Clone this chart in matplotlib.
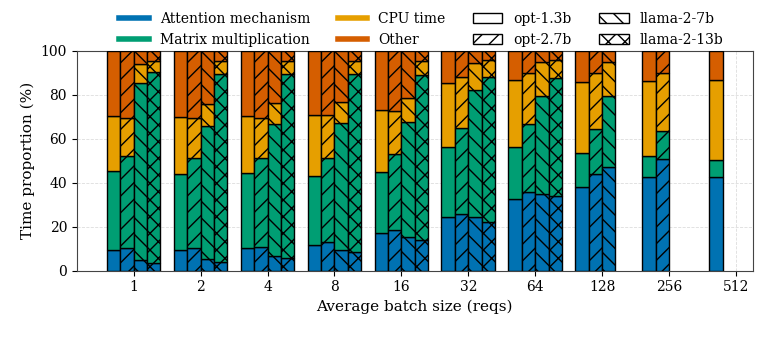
import matplotlib
matplotlib.use("Agg")
import matplotlib.pyplot as plt
from matplotlib.lines import Line2D
from matplotlib.patches import Patch
import numpy as np

plt.rcParams['font.family'] = ['DejaVu Serif']
plt.rcParams['hatch.linewidth'] = 1.0

batch_sizes = ["1", "2", "4", "8", "16", "32", "64", "128", "256", "512"]
models = ["opt-1.3b", "opt-2.7b", "llama-2-7b", "llama-2-13b"]
hatches = ["", "//", "\\\\", "xx"]

components = ["Attention mechanism", "Matrix multiplication", "CPU time", "Other"]
colors = ["#0072B2", "#009E73", "#E69F00", "#D55E00"]

# percentages per model (rows), per batch size (columns); None = not measured
attention = [
    [9.4, 9.3, 10.3, 11.5, 17.3, 24.3, 32.5, 38.1, 42.5, 42.8],
    [10.2, 10.2, 10.6, 12.9, 18.5, 25.9, 36.0, 43.9, 50.8, None],
    [4.9, 5.3, 6.7, 9.4, 15.2, 24.3, 34.9, 47.0, None, None],
    [3.6, 4.1, 5.8, 8.5, 13.8, 22.3, 34.1, None, None, None],
]
matmul = [
    [36.0, 34.6, 34.0, 31.7, 27.8, 31.8, 23.9, 15.6, 9.5, 7.4],
    [42.0, 40.9, 40.7, 38.4, 34.5, 39.0, 30.8, 20.4, 12.8, None],
    [80.4, 60.6, 59.9, 57.7, 52.2, 57.9, 44.6, 32.5, None, None],
    [86.5, 85.3, 83.4, 80.9, 75.1, 65.7, 53.3, None, None, None],
]
cpu = [
    [25.0, 25.8, 26.1, 27.8, 28.0, 29.0, 30.4, 32.3, 34.2, 36.6],
    [17.3, 18.1, 18.0, 19.3, 19.7, 23.3, 23.0, 25.5, 26.1, None],
    [8.8, 10.0, 9.6, 9.5, 11.1, 12.2, 15.5, 15.3, None, None],
    [5.2, 5.9, 6.1, 5.9, 6.4, 7.6, 8.5, None, None, None],
]
other = [
    [29.6, 30.3, 29.6, 29.0, 26.9, 14.9, 13.2, 14.0, 13.8, 13.2],
    [30.5, 30.8, 30.7, 29.4, 27.3, 11.8, 10.2, 10.2, 10.3, None],
    [5.9, 24.1, 23.8, 23.4, 21.5, 5.6, 5.0, 5.2, None, None],
    [4.7, 4.7, 4.7, 4.7, 4.7, 4.4, 4.1, None, None, None],
]

fig = plt.figure(figsize=(7.68, 3.38), dpi=100)
ax = fig.add_axes([0.100, 0.199, 0.880, 0.651])

width = 0.2
x = np.arange(len(batch_sizes))
for m in range(len(models)):
    off = (m - 1.5) * width
    idx = [i for i in range(len(batch_sizes)) if attention[m][i] is not None]
    bottom = np.zeros(len(idx))
    for comp, col in zip([attention, matmul, cpu, other], colors):
        vals = np.array([comp[m][i] for i in idx])
        ax.bar(x[idx] + off, vals, width, bottom=bottom, color=col,
               edgecolor="black", linewidth=1.0, hatch=hatches[m], zorder=3)
        bottom += vals

ax.set_xlim(-0.85, 9.25)
ax.set_ylim(0, 100)
ax.set_xticks(x)
ax.set_xticklabels(batch_sizes)
ax.set_yticks([0, 20, 40, 60, 80, 100])
ax.tick_params(labelsize=10)
ax.set_xlabel("Average batch size (reqs)", fontsize=11)
ax.set_ylabel("Time proportion (%)", fontsize=11)
ax.grid(True, linestyle="--", color="#dddddd", linewidth=0.6, zorder=0)
for s in ax.spines.values():
    s.set_color("#444444")

handles = [Line2D([0], [0], color=c, lw=4) for c in colors]
handles += [Patch(facecolor="white", edgecolor="black", hatch=h) for h in hatches]
labels = components + models
ax.legend(handles, labels, ncol=4, loc="lower center", bbox_to_anchor=(0.51, 0.962),
          frameon=False, fontsize=10, handlelength=2.1)

fig.savefig("out.png", dpi=100)
